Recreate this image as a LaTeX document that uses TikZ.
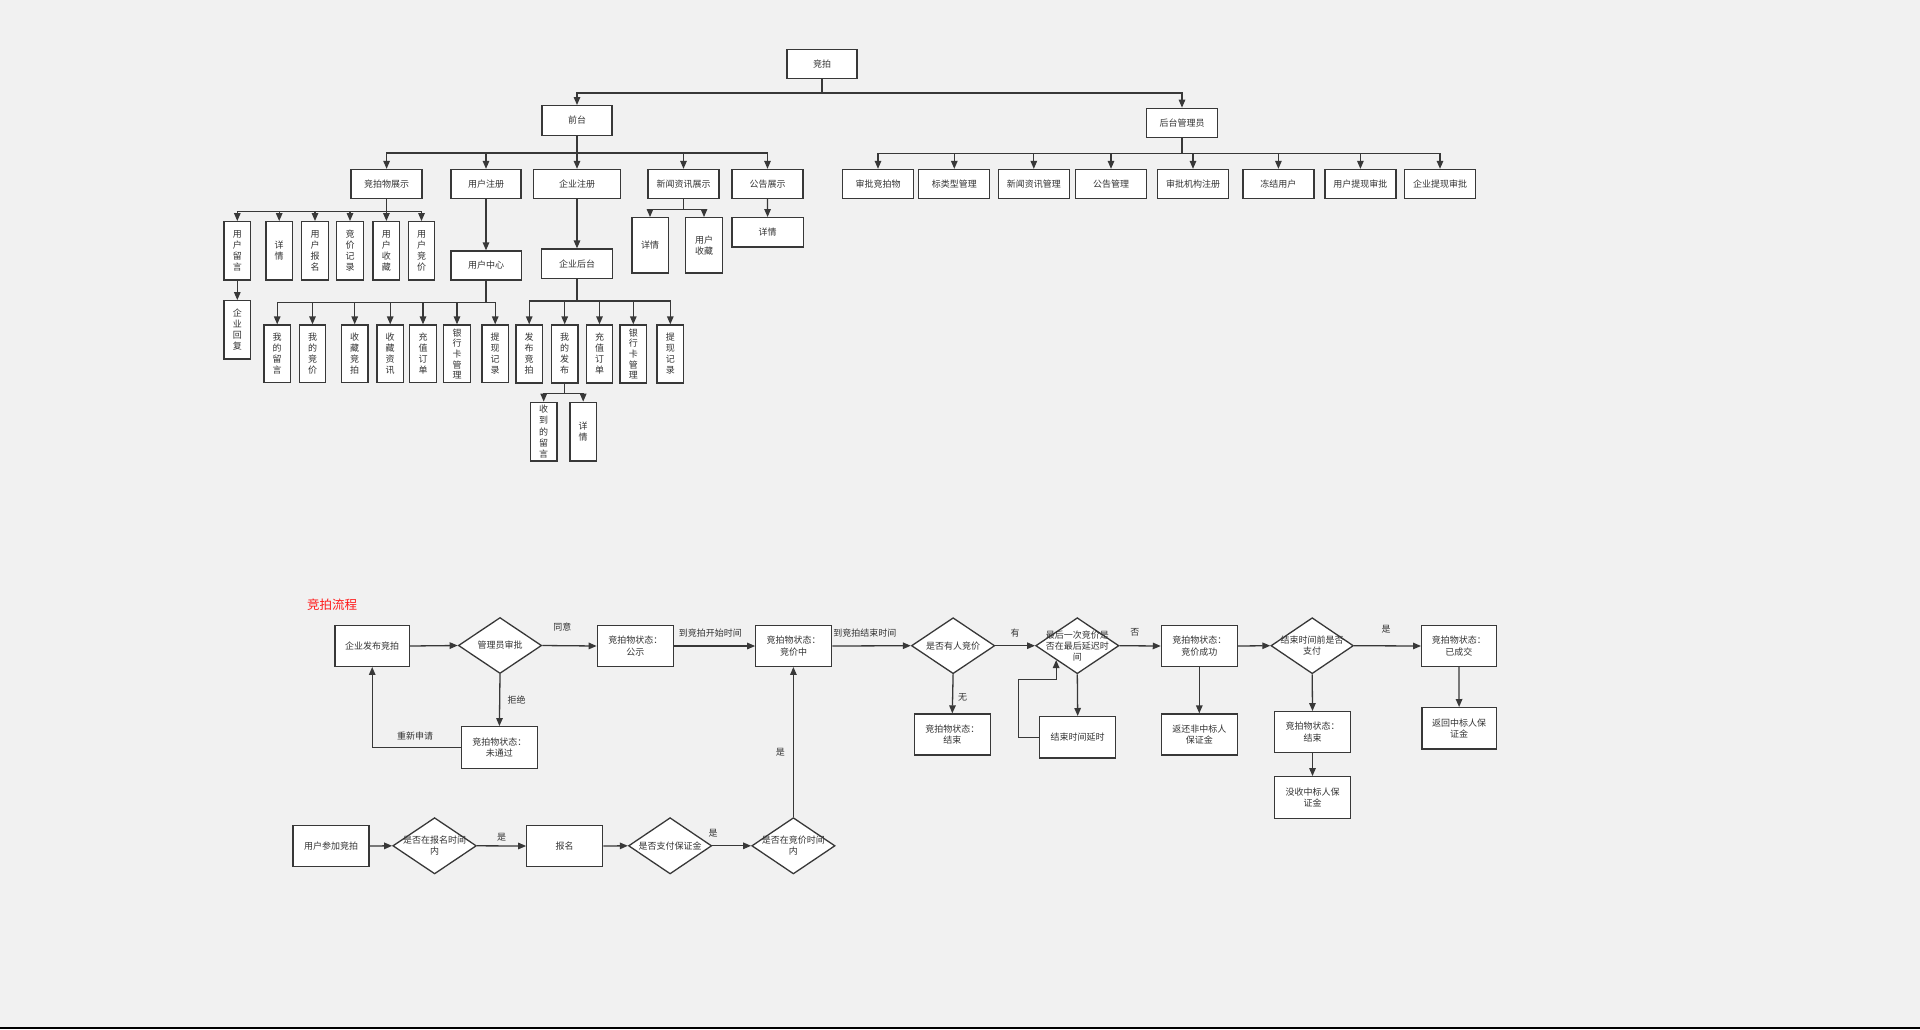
\documentclass[tikz,border=0pt]{standalone}
\usepackage{fontspec}
\newfontfamily\cjk{Noto Sans CJK SC}
\usetikzlibrary{arrows.meta,shapes.geometric,calc}
\definecolor{bgc}{HTML}{F1F1F1}
\definecolor{lc}{HTML}{383838}
\definecolor{tc}{HTML}{333333}
\definecolor{titlec}{HTML}{FF1A1A}
\begin{document}
\begin{tikzpicture}[x=1pt,y=-1pt,
  every node/.style={font=\cjk\fontsize{9}{11}\selectfont, text=tc},
  box/.style={draw=lc, line width=1.3pt, fill=white, inner sep=0pt, align=center},
  hb/.style={box, minimum width=71pt, minimum height=29pt},
  vb/.style={box, minimum width=26.6pt, minimum height=58.3pt},
  fb/.style={box, minimum width=75.8pt, minimum height=40.6pt, font=\cjk\fontsize{9}{11.5}\selectfont},
  dm/.style={draw=lc, line width=1.3pt, fill=white, diamond, inner sep=0pt, minimum width=83.3pt, minimum height=56pt},
  dlab/.style={align=center, inner sep=0pt, font=\cjk\fontsize{9}{11}\selectfont},
  arr/.style={draw=lc, line width=1.3pt, -{Triangle[length=8pt,width=6.5pt]}},
  ln/.style={draw=lc, line width=1.3pt},
  lbl/.style={inner sep=0pt, anchor=center},
]
\useasboundingbox (0,0) rectangle (1920,1029);
\fill[bgc] (0,0) rectangle (1920,1029);
\fill[black] (0,1027.3) rectangle (1920,1029);

% ---------------- top tree ----------------
\node[hb, minimum width=70pt] (root) at (822,63.7) {竞拍};
\node[hb, minimum width=70pt, minimum height=29.6pt] (qt) at (577,120.5) {前台};
\node[hb] (ht) at (1182,122.8) {后台管理员};
\foreach \n in {qt,ht} \draw[arr] (root.south) -- ++(0,14.2) -| (\n.north);

\node[hb] (c1) at (386.6,184) {竞拍物展示};
\node[hb, minimum width=70pt] (c2) at (486,184) {用户注册};
\node[hb, minimum width=87pt] (c3) at (577,184) {企业注册};
\node[hb] (c4) at (683.5,184) {新闻资讯展示};
\node[hb] (c5) at (767.5,184) {公告展示};
\foreach \n in {c1,c2,c3,c4,c5} \draw[arr] (qt.south) -- ++(0,17) -| (\n.north);

\node[hb] (a1) at (878,184) {审批竞拍物};
\node[hb] (a2) at (954.3,184) {标类型管理};
\node[hb] (a3) at (1033.8,184) {新闻资讯管理};
\node[hb] (a4) at (1111,184) {公告管理};
\node[hb] (a5) at (1193,184) {审批机构注册};
\node[hb] (a6) at (1278.4,184) {冻结用户};
\node[hb] (a7) at (1360.4,184) {用户提现审批};
\node[hb] (a8) at (1440,184) {企业提现审批};
\foreach \n in {a1,a2,a3,a4,a5,a6,a7,a8} \draw[arr] (ht.south) -- ++(0,15.2) -| (\n.north);

% children of 竞拍物展示
\node[vb] (v1) at (237.3,250.85) {用\\户\\留\\言};
\node[vb] (v2) at (279.2,250.85) {详\\情};
\node[vb] (v3) at (315,250.85) {用\\户\\报\\名};
\node[vb] (v4) at (350,250.85) {竞\\价\\记\\录};
\node[vb] (v5) at (386.4,250.85) {用\\户\\收\\藏};
\node[vb] (v6) at (421.5,250.85) {用\\户\\竞\\价};
\foreach \n in {v1,v2,v3,v4,v5,v6} \draw[arr] (c1.south) -- ++(0,12) -| (\n.north);
\node[vb] (v7) at (237.3,329.9) {企\\业\\回\\复};
\draw[arr] (v1.south) -- (v7.north);

% 用户注册 / 企业注册
\node[hb, minimum width=70.3pt] (uc) at (486,265.5) {用户中心};
\draw[arr] (c2.south) -- (uc.north);
\node[hb, minimum width=70.6pt, minimum height=29.3pt] (eb) at (577,263.7) {企业后台};
\draw[arr] (c3.south) -- (eb.north);

% 新闻资讯展示
\node[box, minimum width=36.3pt, minimum height=55.3pt] (n1) at (650,245.35) {详情};
\node[box, minimum width=36.6pt, minimum height=55.3pt] (n2) at (704,245.35) {用户\\收藏};
\foreach \n in {n1,n2} \draw[arr] (c4.south) -- ++(0,10) -| (\n.north);

% 公告展示
\node[hb, minimum width=71.3pt, minimum height=29.3pt] (g1) at (767.6,232.35) {详情};
\draw[arr] (c5.south) -- (g1.north);

% 用户中心 children
\node[vb, minimum height=57.7pt] (u1) at (277.2,353.85) {我\\的\\留\\言};
\node[vb, minimum height=57.7pt] (u2) at (312.5,353.85) {我\\的\\竞\\价};
\node[vb, minimum height=57.7pt] (u3) at (354.7,353.85) {收\\藏\\竞\\拍};
\node[vb, minimum height=57.7pt] (u4) at (390.2,353.85) {收\\藏\\资\\讯};
\node[vb, minimum height=57.7pt] (u5) at (423,353.85) {充\\值\\订\\单};
\node[vb, minimum height=57.7pt, font=\cjk\fontsize{9}{10.7}\selectfont] (u6) at (457,353.85) {银\\行\\卡\\管\\理};
\node[vb, minimum height=57.7pt] (u7) at (495.2,353.85) {提\\现\\记\\录};
\foreach \n in {u1,u2,u3,u4,u5,u6,u7} \draw[arr] (uc.south) -- ++(0,21.7) -| (\n.north);

% 企业后台 children
\node[vb, minimum height=58pt] (e1) at (529.2,354) {发\\布\\竞\\拍};
\node[vb, minimum height=58pt] (e2) at (564.7,354) {我\\的\\发\\布};
\node[vb, minimum height=58pt] (e3) at (599.5,354) {充\\值\\订\\单};
\node[vb, minimum height=58pt, font=\cjk\fontsize{9}{10.7}\selectfont] (e4) at (633.3,354) {银\\行\\卡\\管\\理};
\node[vb, minimum height=58pt] (e5) at (670.3,354) {提\\现\\记\\录};
\foreach \n in {e1,e2,e3,e4,e5} \draw[arr] (eb.south) -- ++(0,22) -| (\n.north);

% 我的发布 children
\node[vb, minimum height=58.7pt, font=\cjk\fontsize{9}{11.3}\selectfont] (m1) at (543.7,431.65) {收\\到\\的\\留\\言};
\node[vb, minimum height=58.7pt] (m2) at (583.2,431.65) {详\\情};
\foreach \n in {m1,m2} \draw[arr] (e2.south) -- ++(0,9.7) -| (\n.north);

% ---------------- flow ----------------
\node[anchor=west, text=titlec, font=\cjk\fontsize{12.5}{14}\selectfont] (title) at (303.5,604.5) {竞拍流程};

\node[fb, minimum width=74.7pt] (f1) at (372.2,646) {企业发布竞拍};
\node[dm, label={[dlab]center:管理员审批}] (d1) at (500,645.5) {};
\node[fb, minimum width=76pt] (s1) at (635.3,646) {竞拍物状态：\\公示};
\node[fb] (s2) at (793.7,646) {竞拍物状态：\\竞价中};
\node[fb, minimum width=75.5pt, minimum height=41.6pt] (s0) at (499.4,747.5) {竞拍物状态：\\未通过};
\node[dm, label={[dlab]center:是否有人竞价}] (d2) at (953.1,645.7) {};
\node[dm, label={[dlab]center:最后一次竞价是\\否在最后延迟时\\间}] (d3) at (1077.3,645.7) {};
\node[fb] (s3) at (1199.3,646) {竞拍物状态：\\竞价成功};
\node[dm, minimum width=82.5pt, label={[dlab]center:结束时间前是否\\支付}] (d4) at (1312.2,645.7) {};
\node[fb, minimum width=74.5pt] (s4) at (1458.9,646) {竞拍物状态：\\已成交};
\node[fb, minimum height=41pt] (s5) at (952.3,734.5) {竞拍物状态：\\结束};
\node[fb, minimum height=41.3pt] (s6) at (1077.7,737.3) {结束时间延时};
\node[fb, minimum height=41pt] (s7) at (1199.3,734.5) {返还非中标人\\保证金};
\node[fb, minimum width=75.6pt] (s8) at (1312.5,732) {竞拍物状态：\\结束};
\node[fb, minimum width=75.6pt, minimum height=41.6pt] (s9) at (1312.5,797.5) {没收中标人保\\证金};
\node[fb, minimum width=74.3pt, minimum height=41.3pt] (s10) at (1459.1,728.3) {返回中标人保\\证金};

\node[fb] (p1) at (331,846) {用户参加竞拍};
\node[dm, minimum width=83.6pt, minimum height=56.3pt, label={[dlab]center:是否在报名时间\\内}] (d5) at (434.6,845.8) {};
\node[fb] (p2) at (564.7,846) {报名};
\node[dm, minimum width=83.2pt, minimum height=56.3pt, label={[dlab]center:是否支付保证金}] (d6) at (670.1,845.8) {};
\node[dm, minimum height=56.3pt, label={[dlab]center:是否在竞价时间\\内}] (d7) at (793.4,845.8) {};

\draw[arr] (f1.east) -- (d1.west);
\draw[arr] (d1.east) -- node[lbl, pos=0.37, yshift=19pt] {同意} (s1.west);
\draw[arr] (s1.east) -- node[lbl, pos=0.45, yshift=13.3pt] {到竞拍开始时间} (s2.west);
\draw[arr] (s2.east) -- node[lbl, pos=0.415, yshift=13.3pt] {到竞拍结束时间} (d2.west);
\draw[arr] (d1.south) -- node[lbl, pos=0.5, xshift=17pt] {拒绝} (s0.north);
\draw[arr] (s0.west) -| node[lbl, pos=0.259, yshift=11.5pt] {重新申请} (f1.south);
\draw[arr] (d2.east) -- node[lbl, pos=0.5, yshift=13pt] {有} (d3.west);
\draw[arr] (d3.east) -- node[lbl, pos=0.37, yshift=13pt] {否} (s3.west);
\draw[arr] (s3.east) -- (d4.west);
\draw[arr] (d4.east) -- node[lbl, pos=0.48, yshift=16.7pt] {是} (s4.west);
\draw[arr] (d2.south) -- node[lbl, pos=0.6, xshift=10pt] {无} (s5.north);
\draw[arr] (d3.south) -- (s6.north);
\draw[arr] (s6.west) -- ++(-21,0) -- ++(0,-58) -| (d3.south west);
\draw[arr] (s3.south) -- (s7.north);
\draw[arr] (d4.south) -- (s8.north);
\draw[arr] (s8.south) -- (s9.north);
\draw[arr] (s4.south) -- (s10.north);

\draw[arr] (p1.east) -- (d5.west);
\draw[arr] (d5.east) -- node[lbl, pos=0.5, yshift=9pt] {是} (p2.west);
\draw[arr] (p2.east) -- (d6.west);
\draw[arr] (d6.east) -- node[lbl, pos=0.02, yshift=12.5pt] {是} (d7.west);
\draw[arr] (d7.north) -- node[lbl, pos=0.43, xshift=-13pt] {是} (d7.north |- s2.south);
\end{tikzpicture}
\end{document}
